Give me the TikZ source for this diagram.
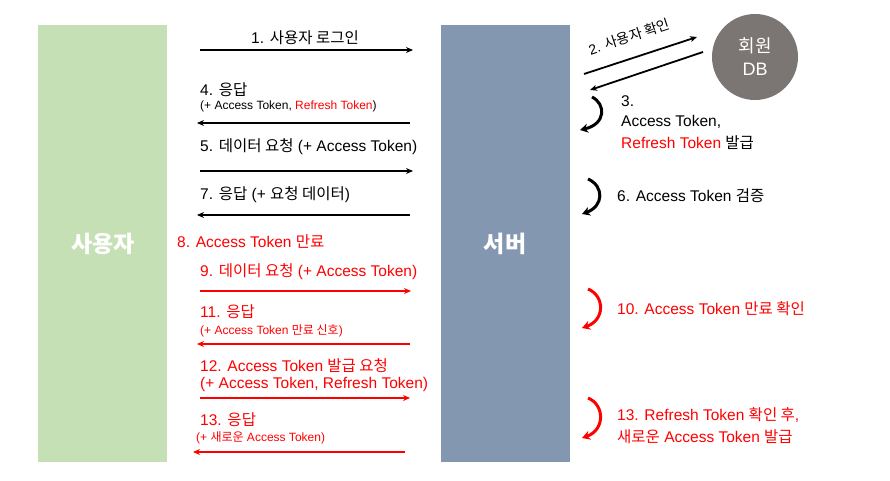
\documentclass[tikz,border=0pt]{standalone}
\usepackage{fontspec}
\setmainfont{Liberation Sans}
\newfontfamily\krfont{Noto Sans CJK KR}
\newcommand{\kr}[1]{{\krfont #1}}
\usetikzlibrary{arrows.meta}
\definecolor{usergreen}{HTML}{C5E0B4}
\definecolor{serverblue}{HTML}{8497B0}
\definecolor{dbgray}{HTML}{7B7674}
\definecolor{tokred}{HTML}{FF0000}
\begin{document}
\begin{tikzpicture}[x=1pt,y=-1pt,
                every node/.append style = {inner sep=0pt, font=\fontsize{15.5}{18}\selectfont},
                msg/.style = {anchor=west},
                small/.style = {anchor=west, font=\fontsize{12}{14}\selectfont},
                flow/.style = {line width=1.8pt, -{Stealth[length=7pt,width=6pt]}},
                turn/.style = {line width=3pt, -{Stealth[length=8pt,width=9pt]}}]
                \useasboundingbox (0,0) rectangle (890,481);
                \fill[usergreen] (38,25) rectangle (167,462);
                \fill[serverblue] (441,25) rectangle (570,462);
                \node[text=white, font=\fontsize{23}{24}\selectfont\krfont\bfseries] (user) at (103,244) {사용자};
                \node[text=white, font=\fontsize{23}{24}\selectfont\krfont\bfseries] (server) at (505,244) {서버};
                \node[circle, fill=dbgray, minimum size=86pt, text=white, align=center,
                      font=\fontsize{18}{23}\selectfont] (db) at (755,57) {\kr{회원}\\DB};
                % login
                \coordinate (l1a) at (200,50); \coordinate (l1b) at (413,50);
                \draw[flow] (l1a) -- (l1b);
                \node (t1) at (305,38) {1. \kr{사용자 로그인}};
                \coordinate (d2a) at (584,74); \coordinate (d2b) at (697,37);
                \draw[flow] (d2a) -- (d2b);
                \node[rotate=18, font=\fontsize{14}{16}\selectfont] (t2) at (629,37) {2. \kr{사용자 확인}};
                \coordinate (d3a) at (703,52); \coordinate (d3b) at (590,90);
                \draw[flow] (d3a) -- (d3b);
                \draw[turn] (592,97) .. controls (606,104) and (606,124) .. (580,130);
                \node[msg] (t3) at (621,101) {3.};
                \node[msg] (t3b) at (621,122) {Access Token,};
                \node[msg] (t3c) at (621,143) {\textcolor{tokred}{Refresh Token} \kr{발급}};
                \node[msg] (t4) at (200,90) {4. \kr{응답}};
                \node[small] (t4b) at (200,106) {(+ Access Token, \textcolor{tokred}{Refresh Token})};
                \coordinate (l4a) at (410,123); \coordinate (l4b) at (197,123);
                \draw[flow] (l4a) -- (l4b);
                \node[msg] (t5) at (200,147) {5. \kr{데이터 요청} (+ Access Token)};
                \coordinate (l5a) at (200,171); \coordinate (l5b) at (413,171);
                \draw[flow] (l5a) -- (l5b);
                \draw[turn] (588,179) .. controls (604,186) and (604,206) .. (582,214);
                \node[msg] (t6) at (617,196) {6. Access Token \kr{검증}};
                \node[msg] (t7) at (200,195) {7. \kr{응답} (+ \kr{요청 데이터})};
                \coordinate (l7a) at (410,215); \coordinate (l7b) at (197,215);
                \draw[flow] (l7a) -- (l7b);
                % expired token
                \begin{scope}[tokred]
                \node[msg] (t8) at (177,242) {8. Access Token \kr{만료}};
                \node[msg] (t9) at (200,272) {9. \kr{데이터 요청} (+ Access Token)};
                \coordinate (l9a) at (200,291); \coordinate (l9b) at (411,291);
                \draw[flow] (l9a) -- (l9b);
                \draw[turn] (588,289) .. controls (605,296) and (605,320) .. (582,328);
                \node[msg] (t10) at (617,309) {10. Access Token \kr{만료 확인}};
                \node[msg] (t11) at (200,312) {11. \kr{응답}};
                \node[small] (t11b) at (200,331) {(+ Access Token \kr{만료 신호})};
                \coordinate (l11a) at (410,344); \coordinate (l11b) at (197,344);
                \draw[flow] (l11a) -- (l11b);
                \node[msg] (t12) at (200,366) {12. Access Token \kr{발급 요청}};
                \node[msg] (t12b) at (200,384) {(+ Access Token, Refresh Token)};
                \coordinate (l12a) at (200,398); \coordinate (l12b) at (410,398);
                \draw[flow] (l12a) -- (l12b);
                \draw[turn] (588,398) .. controls (605,405) and (605,430) .. (582,438);
                \node[msg] (t13r) at (617,415) {13. Refresh Token \kr{확인 후},};
                \node[msg] (t13s) at (617,437) {\kr{새로운} Access Token \kr{발급}};
                \node[msg] (t13) at (200,420) {13. \kr{응답}};
                \node[small] (t13b) at (196,438) {(+ \kr{새로운} Access Token)};
                \coordinate (l13a) at (405,452); \coordinate (l13b) at (193,452);
                \draw[flow] (l13a) -- (l13b);
                \end{scope}
            \end{tikzpicture}
\end{document}
